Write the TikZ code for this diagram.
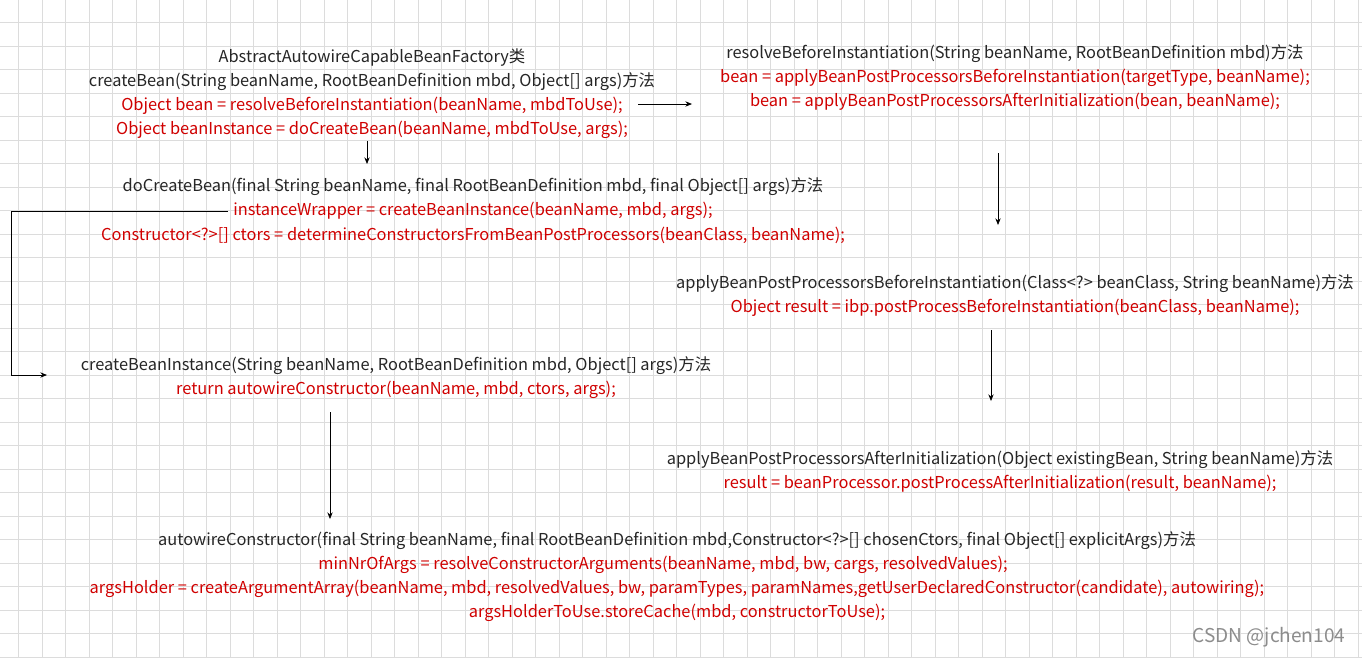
\documentclass[tikz,border=0pt]{standalone}
\usepackage{fontspec}
\setmainfont{Noto Sans CJK SC}
\definecolor{rd}{HTML}{D00000}
\definecolor{gr}{HTML}{DCDCDC}
\begin{document}
\begin{tikzpicture}[x=0.75pt,y=-0.75pt,
  t/.style={inner sep=0pt,font=\fontsize{12.3}{14}\selectfont,text=black!85},
  r/.style={t,text=rd},
  ar/.style={-{Stealth[length=5pt,width=4pt]},black,line width=0.6pt}]
\usetikzlibrary{arrows.meta}
\useasboundingbox (0,0) rectangle (1362,658);
\fill[white] (0,0) rectangle (1362,658);
\foreach \i in {0,...,57} {\draw[gr,line width=0.6pt] ({18.5+23.5*\i},0) -- ({18.5+23.5*\i},658);}
\foreach \i in {0,...,28} {\draw[gr,line width=0.6pt] (0,{22.5+23.5*\i}) -- (1362,{22.5+23.5*\i});}
\node[t] (a1) at (372,58) {AbstractAutowireCapableBeanFactory类};
\node[t] (a2) at (372,82) {createBean(String beanName, RootBeanDefinition mbd, Object[] args)方法};
\node[r] (a3) at (372,106) {Object bean = resolveBeforeInstantiation(beanName, mbdToUse);};
\node[r] (a4) at (372,130) {Object beanInstance = doCreateBean(beanName, mbdToUse, args);};
\node[t] (b1) at (473,187) {doCreateBean(final String beanName, final RootBeanDefinition mbd, final Object[] args)方法};
\node[r] (b2) at (473,211) {instanceWrapper = createBeanInstance(beanName, mbd, args);};
\node[r] (b3) at (473,235) {Constructor<?>[] ctors = determineConstructorsFromBeanPostProcessors(beanClass, beanName);};
\node[t] (c1) at (396,366) {createBeanInstance(String beanName, RootBeanDefinition mbd, Object[] args)方法};
\node[r] (c2) at (396,390) {return autowireConstructor(beanName, mbd, ctors, args);};
\node[t] (d1) at (677,541) {autowireConstructor(final String beanName, final RootBeanDefinition mbd,Constructor<?>[] chosenCtors, final Object[] explicitArgs)方法};
\node[r] (d2) at (663,565) {minNrOfArgs = resolveConstructorArguments(beanName, mbd, bw, cargs, resolvedValues);};
\node[r] (d3) at (677,589) {argsHolder = createArgumentArray(beanName, mbd, resolvedValues, bw, paramTypes, paramNames,getUserDeclaredConstructor(candidate), autowiring);};
\node[r] (d4) at (677,613) {argsHolderToUse.storeCache(mbd, constructorToUse);};
\node[t] (e1) at (1015,54) {resolveBeforeInstantiation(String beanName, RootBeanDefinition mbd)方法};
\node[r] (e2) at (1015,78) {bean = applyBeanPostProcessorsBeforeInstantiation(targetType, beanName);};
\node[r] (e3) at (1015,102) {bean = applyBeanPostProcessorsAfterInitialization(bean, beanName);};
\node[t] (f1) at (1015,284) {applyBeanPostProcessorsBeforeInstantiation(Class<?> beanClass, String beanName)方法};
\node[r] (f2) at (1015,308) {Object result = ibp.postProcessBeforeInstantiation(beanClass, beanName);};
\node[t] (g1) at (1000,460) {applyBeanPostProcessorsAfterInitialization(Object existingBean, String beanName)方法};
\node[r] (g2) at (1000,484) {result = beanProcessor.postProcessAfterInitialization(result, beanName);};
\node[inner sep=0pt,text=black!45,font=\fontsize{14.3}{16}\selectfont] (w) at (1269,637) {CSDN @jchen104};
\coordinate (p1) at (638,104); \coordinate (p2) at (692,104);
\draw[ar] (p1) -- (p2);
\draw[ar] (367,141) -- (367,164);
\draw[ar] (228,211) -- (11,211) -- (11,375) -- (47,375);
\draw[ar] (330,412) -- (330,519);
\draw[ar] (998,153) -- (998,225);
\draw[ar] (991,330) -- (991,401);
\end{tikzpicture}
\end{document}
